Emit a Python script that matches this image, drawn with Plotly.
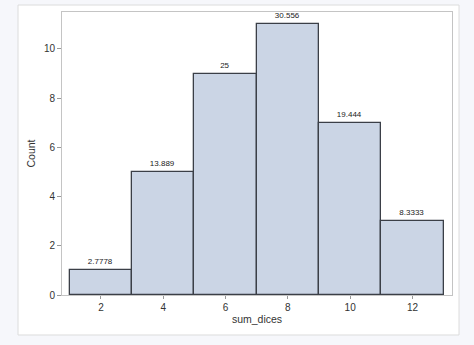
import plotly.graph_objects as go

bin_centers = [2, 4, 6, 8, 10, 12]
counts = [1, 5, 9, 11, 7, 3]
percent_labels = ["2.7778", "13.889", "25", "30.556", "19.444", "8.3333"]
y_ticks = [0, 2, 4, 6, 8, 10]
x_ticks = [2, 4, 6, 8, 10, 12]

fig = go.Figure()
fig.add_trace(go.Bar(
    x=bin_centers, y=counts, width=2,
    marker=dict(color="#cbd5e5", line=dict(color="#3b3f47", width=1.3)),
    text=percent_labels, textposition="outside", cliponaxis=False,
    textfont=dict(family="Arial, Liberation Sans", size=8, color="#222222"),
))

fig.add_shape(type="rect", xref="paper", yref="paper",
              x0=-0.1128, x1=1.018, y0=-0.1413, y1=1.0247,
              fillcolor="white", line=dict(color="#dcdcdc", width=1), layer="below")

fig.update_layout(
    width=474, height=345,
    margin=dict(l=62, r=22, t=12, b=50),
    paper_bgcolor="#f6f7fb", plot_bgcolor="white",
    showlegend=False, bargap=0,
    font=dict(family="Arial, Liberation Sans", size=10, color="#333333"),
)
fig.update_xaxes(range=[0.75, 13.27], tickvals=x_ticks, ticks="outside", ticklen=3,
                 tickcolor="#999999", showgrid=False, zeroline=False,
                 showline=True, linecolor="#c4c4c4", mirror=True,
                 title=dict(text="sum_dices", font=dict(size=10.5), standoff=3))
fig.update_yaxes(range=[0, 11.5], tickvals=y_ticks, ticks="outside", ticklen=4,
                 tickcolor="#999999", showgrid=False, zeroline=False,
                 showline=True, linecolor="#c4c4c4", mirror=True,
                 title=dict(text="Count", font=dict(size=10.5), standoff=6))

fig.write_html("out.html")
